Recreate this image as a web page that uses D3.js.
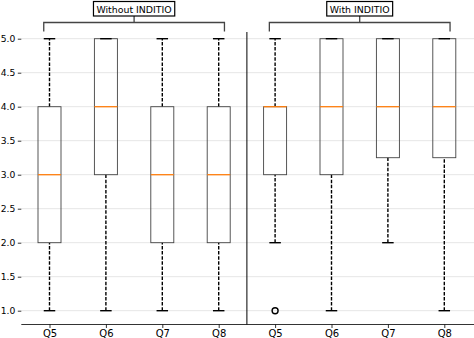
<!DOCTYPE html>
<html><head><meta charset="utf-8">
<script src="https://cdn.jsdelivr.net/npm/d3@7"></script>
<style>body{margin:0;background:#fff}svg{display:block;font-family:"DejaVu Sans",sans-serif}</style>
</head><body><svg id="c" width="474" height="338"></svg>
<script>
const categories = ["Q5","Q6","Q7","Q8","Q5","Q6","Q7","Q8"];
const groups = ["Without INDITIO","With INDITIO"];
const whiskerLow  = [1, 1, 1, 1, 2, 1, 2, 1];
const quartile1   = [2, 3, 2, 2, 3, 3, 3.25, 3.25];
const medians     = [3, 4, 3, 3, 4, 4, 4, 4];
const quartile3   = [4, 5, 4, 4, 4, 5, 5, 5];
const whiskerHigh = [5, 5, 5, 5, 5, 5, 5, 5];
const outliers    = [[], [], [], [], [1], [], [], []];
const yTicks = [1.0, 1.5, 2.0, 2.5, 3.0, 3.5, 4.0, 4.5, 5.0];

const svg = d3.select("#c");
const y = d3.scaleLinear().domain([1,5]).range([310.7,38.7]);
const x = d3.scaleLinear().domain([-0.5,7.5]).range([21.3,472.5]);
const boxW = 23, capW = 11.5;
const axisY = 324.5;

// grid
svg.append("g").selectAll("line").data(yTicks).join("line")
  .attr("x1",x(-0.5)).attr("x2",474).attr("y1",d=>y(d)).attr("y2",d=>y(d))
  .attr("stroke","#e6e6e6").attr("stroke-width",1);

// y axis (no spine)
const ya = svg.append("g").attr("transform",`translate(${x(-0.5)},0)`)
  .call(d3.axisLeft(y).tickValues(yTicks).tickFormat(d3.format(".1f")).tickSize(3.5).tickPadding(2.5));
ya.select(".domain").remove();
ya.selectAll("text").attr("font-size",9.2).attr("fill","#000").attr("font-family","DejaVu Sans");
ya.selectAll("line").attr("stroke","#000").attr("stroke-width",0.8);

// x axis
const xa = svg.append("g").attr("transform",`translate(0,${axisY})`)
  .call(d3.axisBottom(x).tickValues(d3.range(8)).tickFormat(i=>categories[i]).tickSize(3.5).tickPadding(2));
xa.select(".domain").attr("d",`M${x(-0.5)},0H474`).attr("stroke","#000").attr("stroke-width",0.8);
xa.selectAll("text").attr("font-size",10).attr("fill","#000").attr("font-family","DejaVu Sans");
xa.selectAll("line").attr("stroke","#000").attr("stroke-width",0.8);

// separator
svg.append("line").attr("x1",x(3.5)).attr("x2",x(3.5)).attr("y1",32).attr("y2",axisY)
  .attr("stroke","#000").attr("stroke-width",1);

const idx = d3.range(8);
const g = svg.append("g");
// whiskers
g.selectAll(".wl").data(idx).join("line")
  .attr("x1",i=>x(i)).attr("x2",i=>x(i)).attr("y1",i=>y(whiskerLow[i])).attr("y2",i=>y(quartile1[i]))
  .attr("stroke","#000").attr("stroke-width",1.4).attr("stroke-dasharray","3.5,1.6");
g.selectAll(".wh").data(idx).join("line")
  .attr("x1",i=>x(i)).attr("x2",i=>x(i)).attr("y1",i=>y(quartile3[i])).attr("y2",i=>y(whiskerHigh[i]))
  .attr("stroke","#000").attr("stroke-width",1.4).attr("stroke-dasharray","3.5,1.6");
// boxes
g.selectAll("rect").data(idx).join("rect")
  .attr("x",i=>x(i)-boxW/2).attr("width",boxW)
  .attr("y",i=>y(quartile3[i])).attr("height",i=>Math.max(0,y(quartile1[i])-y(quartile3[i])))
  .attr("fill","none").attr("stroke","#444").attr("stroke-width",0.9);
// caps
[whiskerLow, whiskerHigh].forEach(arr=>{
  g.append("g").selectAll("line").data(idx).join("line")
    .attr("x1",i=>x(i)-capW/2).attr("x2",i=>x(i)+capW/2).attr("y1",i=>y(arr[i])).attr("y2",i=>y(arr[i]))
    .attr("stroke","#000").attr("stroke-width",1.4);
});
// medians
g.selectAll(".med").data(idx).join("line")
  .attr("x1",i=>x(i)-boxW/2).attr("x2",i=>x(i)+boxW/2).attr("y1",i=>y(medians[i])).attr("y2",i=>y(medians[i]))
  .attr("stroke","#ff7f0e").attr("stroke-width",1.3);
// outliers
idx.forEach(i=>outliers[i].forEach(v=>{
  g.append("circle").attr("cx",x(i)).attr("cy",y(v)).attr("r",3)
    .attr("fill","none").attr("stroke","#000").attr("stroke-width",1.4);
}));

// group brackets
groups.forEach((name,gi)=>{
  const a = x(gi*4)-capW/2, b = x(gi*4+3)+capW/2, cx = (x(gi*4)+x(gi*4+3))/2;
  const by = 22.5;
  const lg = svg.append("g");
  lg.append("path").attr("d",`M${a},31.5V${by}H${b}V31.5M${cx},${by}V16`)
    .attr("fill","none").attr("stroke","#444").attr("stroke-width",1.3);
  const r = lg.append("rect");
  const t = lg.append("text").attr("x",cx).attr("y",12.5).attr("text-anchor","middle")
    .attr("font-size",9.4).attr("fill","#000").text(name);
  const bb = t.node().getBBox();
  r.attr("x",bb.x-3).attr("y",1.5).attr("width",bb.width+6).attr("height",14.5)
    .attr("fill","#fff").attr("stroke","#000").attr("stroke-width",1.2);
});
</script></body></html>
